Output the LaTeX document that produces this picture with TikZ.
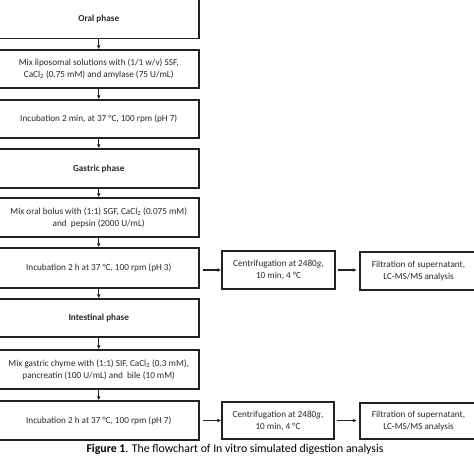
\documentclass[tikz,border=0pt]{standalone}
\usepackage{fontspec}
\setmainfont{Carlito}
\usetikzlibrary{arrows.meta}
\definecolor{ln}{HTML}{222222}
\definecolor{tx}{HTML}{2a2a2a}
\begin{document}
\begin{tikzpicture}[x=1pt,y=-1pt,
  lbox/.style={draw=ln,line width=1.1pt,rectangle,minimum width=200.5pt,inner sep=0pt,align=center,font=\fontsize{9.2}{12}\selectfont,text=tx},
  rbox/.style={draw=ln,line width=1.1pt,rectangle,inner sep=0pt,align=center,font=\fontsize{9.2}{12}\selectfont,text=tx},
  arr/.style={draw=ln,line width=1.1pt,-{Latex[length=4pt,width=3.6pt]}}]
\useasboundingbox (0,0) rectangle (474,457);
\fill[white] (0,0) rectangle (474,457);
% left column
\node[lbox,minimum height=40pt] (b1) at (98.75,18.5) {\textbf{Oral phase}};
\node[lbox,minimum height=38pt] (b2) at (98.75,69) {Mix liposomal solutions with (1/1 w/v) SSF,\\CaCl\textsubscript{2} (0.75 mM) and amylase (75 U/mL)};
\node[lbox,minimum height=38pt] (b3) at (98.75,119) {Incubation 2 min, at 37 °C, 100 rpm (pH 7)};
\node[lbox,minimum height=39pt] (b4) at (98.75,168.5) {\textbf{Gastric phase}};
\node[lbox,minimum height=39pt] (b5) at (98.75,217.5) {Mix oral bolus with (1:1) SGF, CaCl\textsubscript{2} (0.075 mM)\\and~~pepsin (2000 U/mL)};
\node[lbox,minimum height=40pt] (b6) at (98.75,268) {Incubation 2 h at 37 °C, 100 rpm (pH 3)};
\node[lbox,minimum height=38pt] (b7) at (98.75,318) {\textbf{Intestinal phase}};
\node[lbox,minimum height=39pt] (b8) at (98.75,369.5) {Mix gastric chyme with (1:1) SIF, CaCl\textsubscript{2} (0.3 mM),\\pancreatin (100 U/mL) and~~bile (10 mM)};
\node[lbox,minimum height=39pt] (b9) at (98.75,420.5) {Incubation 2 h at 37 °C, 100 rpm (pH 7)};
% right column
\node[rbox,minimum width=113pt,minimum height=38pt] (c1) at (278.5,270) {Centrifugation at 2480\textit{g},\\10 min, 4 °C};
\node[rbox,minimum width=117pt,minimum height=38pt] (f1) at (418.5,271) {Filtration of supernatant,\\LC-MS/MS analysis};
\node[rbox,minimum width=112pt,minimum height=37pt] (c2) at (278,420.5) {Centrifugation at 2480\textit{g},\\10 min, 4 °C};
\node[rbox,minimum width=117pt,minimum height=36pt] (f2) at (418.5,421) {Filtration of supernatant,\\LC-MS/MS analysis};
% caption
\node[font=\fontsize{11.8}{14}\selectfont,text=black,inner sep=0pt] (cap) at (235,449.5) {\textbf{Figure 1}. The flowchart of In vitro simulated digestion analysis};
% arrows
\foreach \a/\b in {b1/b2,b2/b3,b3/b4,b4/b5,b5/b6,b6/b7,b7/b8,b8/b9}
  \draw[arr] (\a.south) -- (\b.north);
\draw[arr,shorten <=3pt] (b6.east |- c1.west) -- (c1.west);
\draw[arr,shorten <=2pt,shorten >=2.5pt] (c1.east) -- (c1.east -| f1.west);
\draw[arr,shorten <=3pt] (b9.east |- c2.west) -- (c2.west);
\draw[arr,shorten <=2pt,shorten >=2.5pt] (c2.east) -- (c2.east -| f2.west);
\end{tikzpicture}
\end{document}
